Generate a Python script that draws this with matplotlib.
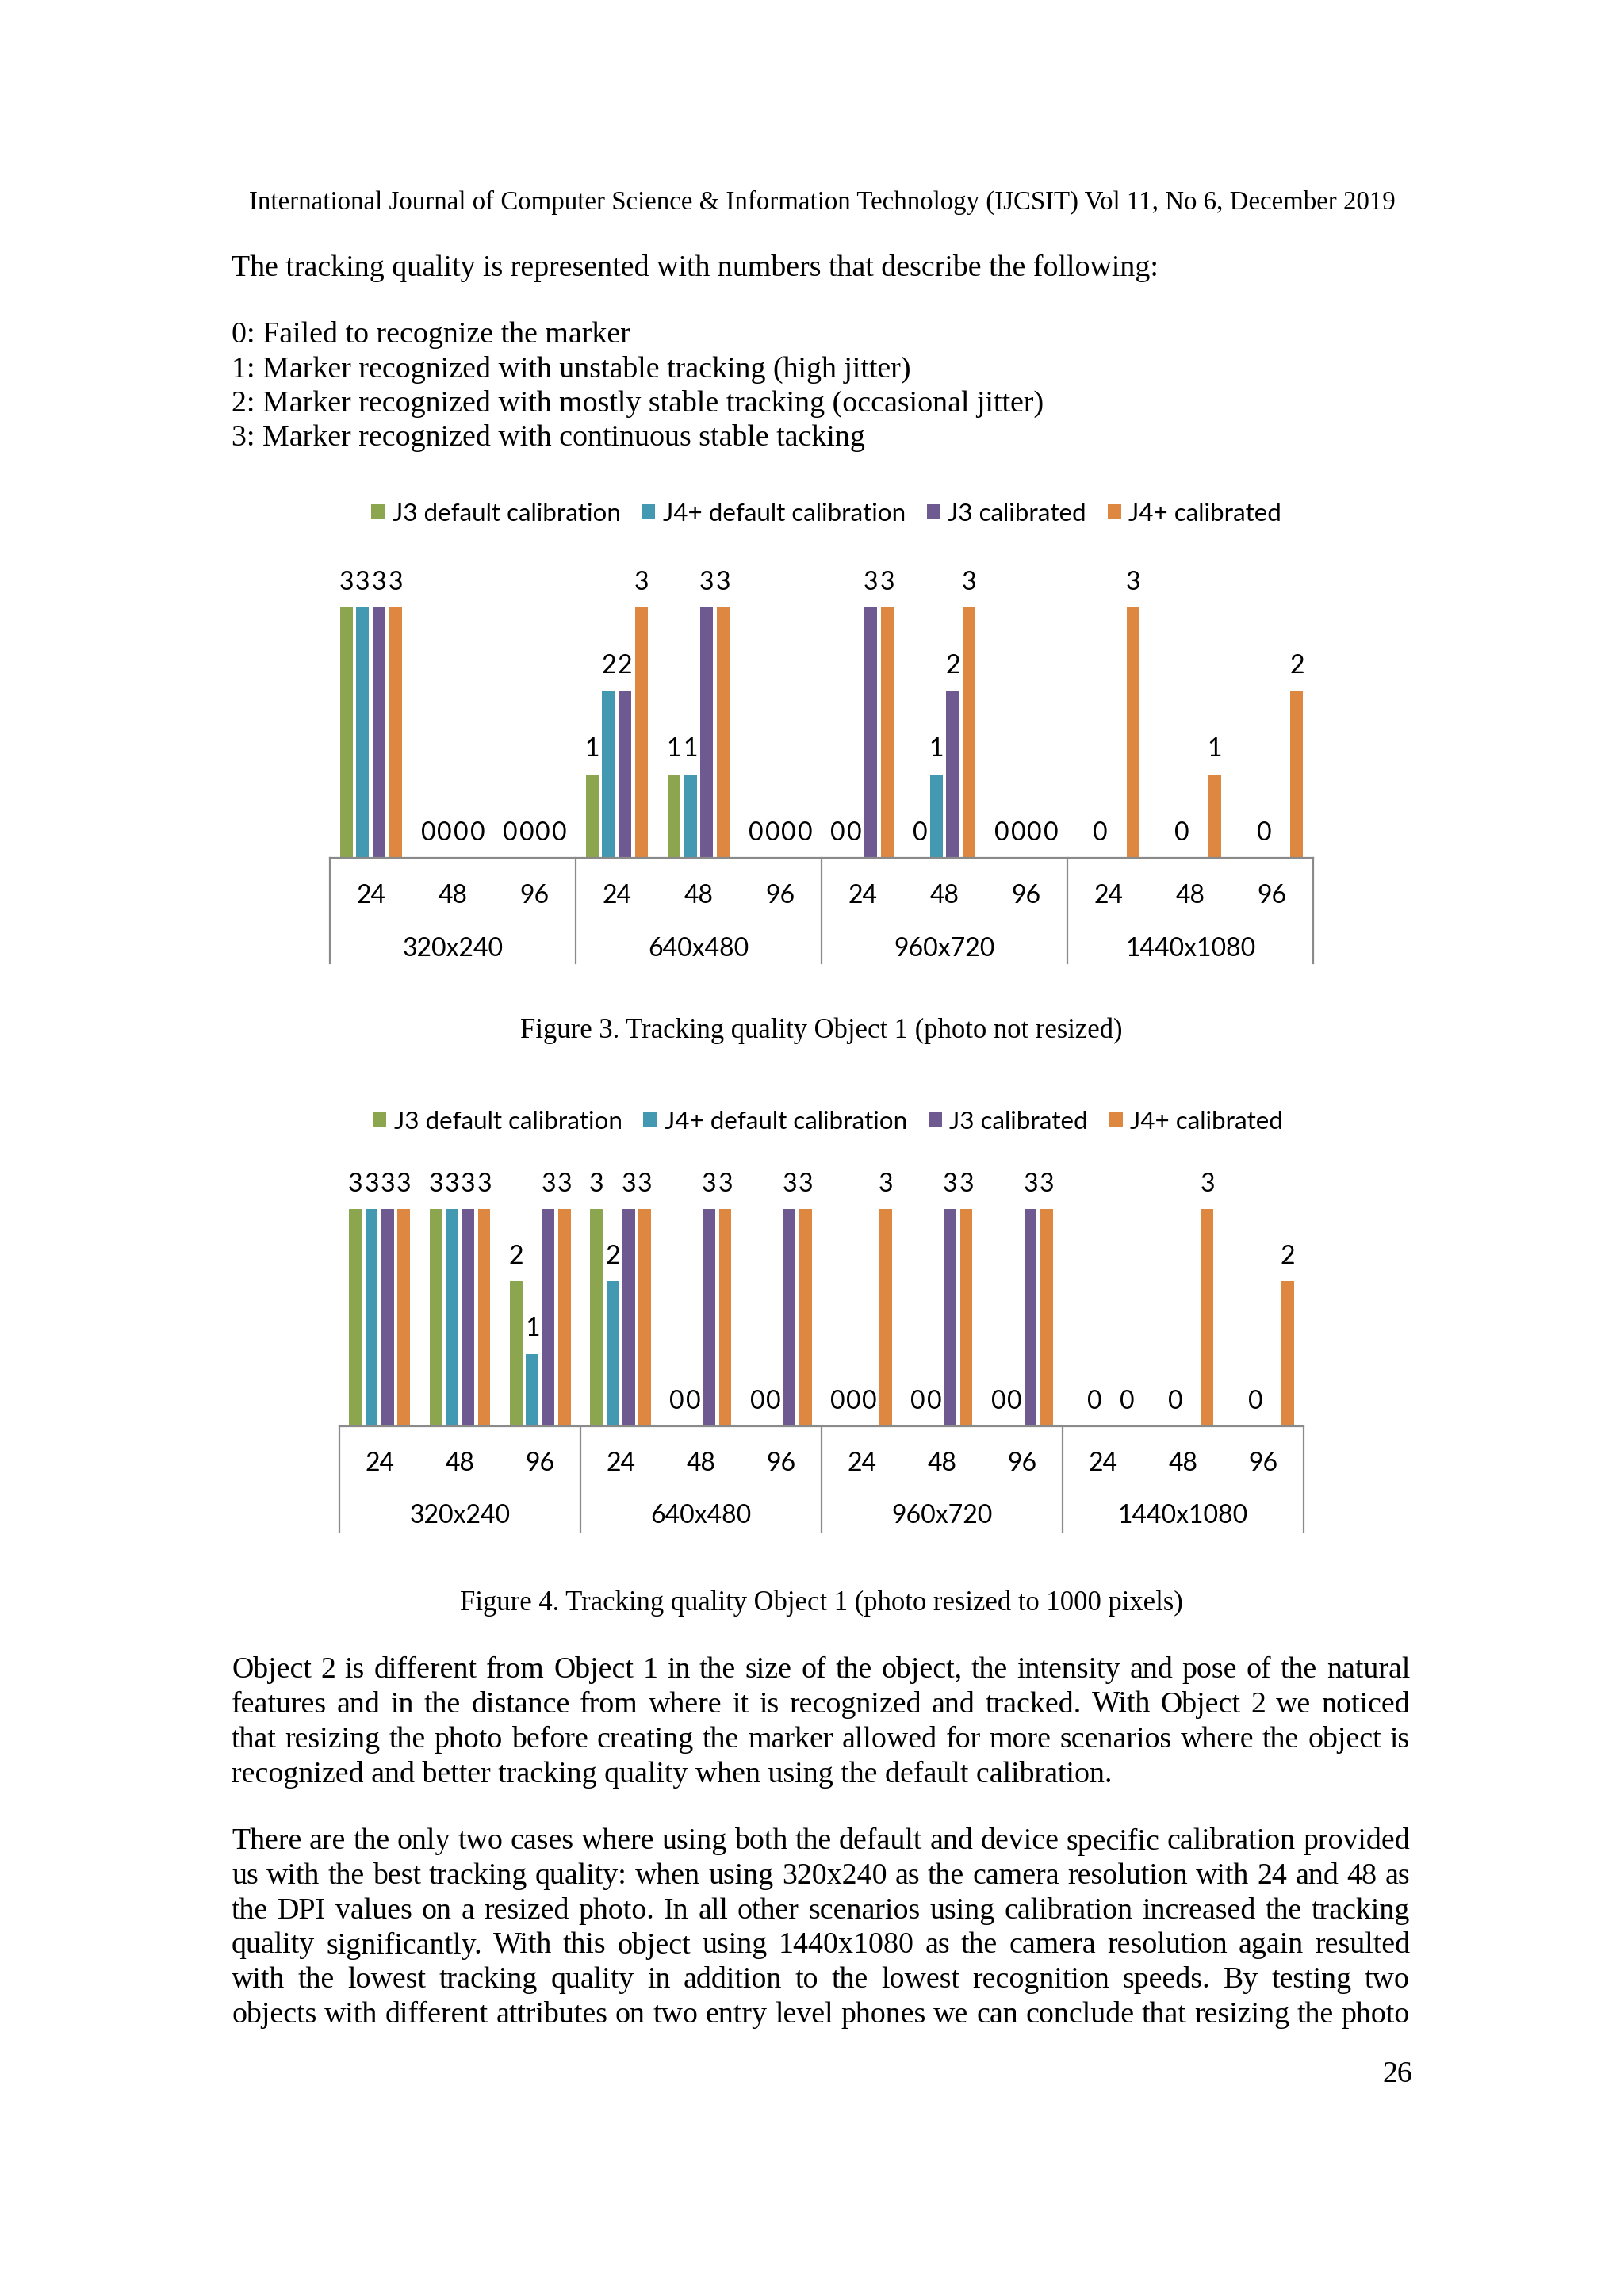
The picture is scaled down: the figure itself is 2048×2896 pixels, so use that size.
import numpy as np
import matplotlib.pyplot as plt
from matplotlib.patches import Patch

W, H = 2048, 2896
nan = np.nan

# categories
dpi_labels = ["24", "48", "96"] * 4
resolutions = ["320x240", "640x480", "960x720", "1440x1080"]
series_names = ["J3 default calibration", "J4+ default calibration",
                "J3 calibrated", "J4+ calibrated"]
colors = ["#8ca64f", "#4399b1", "#6e5a91", "#dd8741"]

# Figure 3 - photo not resized
fig3_j3_default = [3, 0, 0, 1, 1, 0, 0, 0, 0, nan, nan, nan]
fig3_j4_default = [3, 0, 0, 2, 1, 0, 0, 1, 0, 0, 0, 0]
fig3_j3_cal = [3, 0, 0, 2, 3, 0, 3, 2, 0, nan, nan, nan]
fig3_j4_cal = [3, 0, 0, 3, 3, 0, 3, 3, 0, 3, 1, 2]

# Figure 4 - photo resized to 1000 pixels
fig4_j3_default = [3, 3, 2, 3, 0, 0, 0, 0, 0, nan, nan, nan]
fig4_j4_default = [3, 3, 1, 2, 0, 0, 0, 0, 0, 0, 0, 0]
fig4_j3_cal = [3, 3, 3, 3, 3, 3, 0, 3, 3, nan, nan, nan]
fig4_j4_cal = [3, 3, 3, 3, 3, 3, 3, 3, 3, 0, 3, 2]

header = ("International Journal of Computer Science & Information Technology "
          "(IJCSIT) Vol 11, No 6, December 2019")
intro = "The tracking quality is represented with numbers that describe the following:"
scale_lines = ["0: Failed to recognize the marker",
               "1: Marker recognized with unstable tracking (high jitter)",
               "2: Marker recognized with mostly stable tracking (occasional jitter)",
               "3: Marker recognized with continuous stable tacking"]
caption3 = "Figure 3. Tracking quality Object 1 (photo not resized)"
caption4 = "Figure 4. Tracking quality Object 1 (photo resized to 1000 pixels)"
para1 = ["Object 2 is different from Object 1 in the size of the object, the intensity and pose of the natural",
         "features and in the distance from where it is recognized and tracked. With Object 2 we noticed",
         "that resizing the photo before creating the marker allowed for more scenarios where the object is",
         "recognized and better tracking quality when using the default calibration."]
para2 = ["There are the only two cases where using both the default and device specific calibration provided",
         "us with the best tracking quality: when using 320x240 as the camera resolution with 24 and 48 as",
         "the DPI values on a resized photo. In all other scenarios using calibration increased the tracking",
         "quality significantly. With this object using 1440x1080 as the camera resolution again resulted",
         "with the lowest tracking quality in addition to the lowest recognition speeds. By testing two",
         "objects with different attributes on two entry level phones we can conclude that resizing the photo"]

SERIF = "Liberation Serif"
SANS = "Lato"
BODY = 27.3
CHART_FS = 23
DY = 4  # small shift of text baselines (px)

fig = plt.figure(figsize=(W / 100, H / 100), dpi=100)
fig.patch.set_facecolor("white")
renderer = fig.canvas.get_renderer()


def fy(y):
    return 1 - y / H


def text_line(s, y, justify=False, x0=292, x1=1778, size=BODY):
    y = y + DY
    if not justify:
        fig.text(x0 / W, fy(y), s, fontsize=size, family=SERIF, va="center", ha="left")
        return
    words = s.split()
    widths = []
    for w in words:
        t = fig.text(0, 0, w, fontsize=size, family=SERIF)
        widths.append(t.get_window_extent(renderer).width)
        t.remove()
    gap = (x1 - x0 - sum(widths)) / (len(words) - 1)
    x = x0
    for w, wd in zip(words, widths):
        fig.text(x / W, fy(y), w, fontsize=size, family=SERIF, va="center", ha="left")
        x += wd + gap


def draw_chart(ax, series, tick_y, group_y, ybottom):
    x = np.arange(12) + 0.5
    offsets = [-0.3, -0.1, 0.1, 0.3]
    for vals, off, c in zip(series, offsets, colors):
        vals = np.array(vals, dtype=float)
        ax.bar(x + off, np.nan_to_num(vals), width=0.155, color=c, zorder=2)
        for xi, v in zip(x + off, vals):
            if np.isnan(v):
                continue
            ax.annotate(f"{int(v)}", (xi, v), xytext=(0, 22.5), textcoords="offset points",
                        ha="center", va="center", fontsize=CHART_FS, family=SANS)
    ax.set_xlim(0, 12)
    ax.set_ylim(ybottom, 3.6)
    ax.axis("off")
    ax.plot([0, 12], [0, 0], color="#8a8a8a", lw=1.6, zorder=3, clip_on=False)
    for d in [0, 3, 6, 9, 12]:
        ax.plot([d, d], [0, ybottom], color="#8a8a8a", lw=1.6, clip_on=False)
    for xi, lab in zip(x, dpi_labels):
        ax.text(xi, tick_y, lab, ha="center", va="center", fontsize=CHART_FS, family=SANS)
    for g, lab in enumerate(resolutions):
        ax.text(3 * g + 1.5, group_y, lab, ha="center", va="center", fontsize=CHART_FS, family=SANS)


def legend_at(xc, y):
    handles = [Patch(facecolor=c, edgecolor="none") for c in colors]
    fig.legend(handles, series_names, loc="center", bbox_to_anchor=(xc / W, fy(y + DY)),
               ncol=4, frameon=False, prop={"family": SANS, "size": 22.6},
               handlelength=0.55, handleheight=0.55, handletextpad=0.3, columnspacing=0.85)


# page text
fig.text(1037 / W, fy(251 + DY), header, fontsize=23.7, family=SERIF, ha="center", va="center")
text_line(intro, 334)
for i, s in enumerate(scale_lines):
    text_line(s, 419 + i * 43)

# chart 1
ax1 = fig.add_axes([416 / W, fy(1215), 1240 / W, (1215 - 703) / H])
draw_chart(ax1, [fig3_j3_default, fig3_j4_default, fig3_j3_cal, fig3_j4_cal],
           -0.46, -1.09, -1.263)
legend_at(1042, 644)
fig.text(1036 / W, fy(1296 + DY), caption3, fontsize=24.9, family=SERIF, ha="center", va="center")

# chart 2
ax2 = fig.add_axes([428 / W, fy(1932), 1216 / W, (1932 - 1470) / H])
draw_chart(ax2, [fig4_j3_default, fig4_j4_default, fig4_j3_cal, fig4_j4_cal],
           -0.52, -1.24, -1.457)
legend_at(1044, 1411)
fig.text(1036 / W, fy(2018 + DY), caption4, fontsize=24.9, family=SERIF, ha="center", va="center")

# paragraphs
for i, s in enumerate(para1):
    text_line(s, 2103 + i * 43.7, justify=(i < len(para1) - 1))
for i, s in enumerate(para2):
    text_line(s, 2319 + i * 43.7, justify=True)

fig.text(1781 / W, fy(2613 + DY), "26", fontsize=BODY, family=SERIF, ha="right", va="center")

fig.savefig("out.png", dpi=100, facecolor="white")
